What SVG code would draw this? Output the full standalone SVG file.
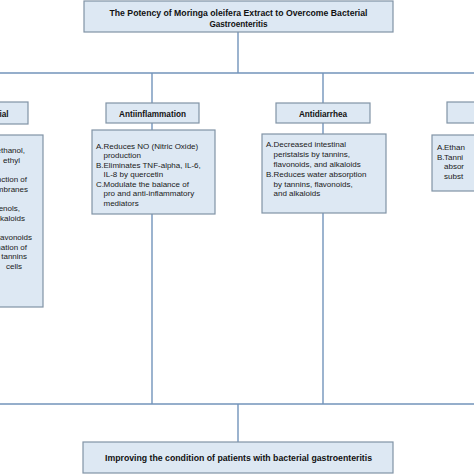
<svg xmlns="http://www.w3.org/2000/svg" width="474" height="474" viewBox="0 0 474 474">
<style>
.box{fill:#dde8f3;stroke:#8193a6;stroke-width:1.2}
.hd{font-family:"Liberation Sans",Arial,sans-serif;font-weight:bold;font-size:8.2px;fill:#111}
.tx{font-family:"Liberation Sans",Arial,sans-serif;font-size:8px;fill:#1a1a1a}
.ln{stroke:#7394bb;stroke-width:1.4;fill:none}
</style>
<rect width="474" height="474" fill="#fff"/>
<g id="connectors">
<path class="ln" d="M238 32V73M0 73H474M152 73V103M152 123V130M152 214V404M323 73V103M323 123V134M323 213V404M0 404H474M238 404V442"/>
</g>
<g id="title">
<rect class="box" x="84" y="1" width="309" height="31"/>
<text class="hd" x="238.5" y="16" text-anchor="middle" textLength="258" lengthAdjust="spacingAndGlyphs">The Potency of Moringa oleifera Extract to Overcome Bacterial</text>
<text class="hd" x="238.5" y="26.5" text-anchor="middle">Gastroenteritis</text>
</g>
<g id="antibacterial-header">
<rect class="box" x="-66" y="102" width="94" height="22"/>
<text class="hd" x="8.5" y="116.5" text-anchor="end">Antibacterial</text>
</g>
<g id="antibacterial-box">
<rect class="box" x="-81" y="135" width="124" height="172"/>
<g class="tx" text-anchor="end">
<text x="25" y="153">A. ethanol,</text>
<text x="20" y="163">ethyl</text>
<text x="27" y="182">function of</text>
<text x="28" y="192">cell membranes</text>
<text x="20" y="211">phenols,</text>
<text x="25" y="221">alkaloids</text>
<text x="32" y="240">and flavonoids</text>
<text x="27" y="250">formation of</text>
<text x="27" y="259">tannins</text>
<text x="22" y="269">cells</text>
</g>
</g>
<g id="antiinflammation-header">
<rect class="box" x="106" y="103" width="93" height="20"/>
<text class="hd" x="152.5" y="116.5" text-anchor="middle">Antiinflammation</text>
</g>
<g id="antiinflammation-box">
<rect class="box" x="92" y="130" width="123" height="84"/>
<g class="tx">
<text x="96" y="148.5">A.</text><text x="103.5" y="148.5">Reduces NO (Nitric Oxide)</text>
<text x="103.5" y="158">production</text>
<text x="96" y="167.5">B.</text><text x="103.5" y="167.5">Eliminates TNF-alpha, IL-6,</text>
<text x="103.5" y="177">IL-8 by quercetin</text>
<text x="96" y="186.5">C.</text><text x="103.5" y="186.5">Modulate the balance of</text>
<text x="103.5" y="196">pro and anti-inflammatory</text>
<text x="103.5" y="205.5">mediators</text>
</g>
</g>
<g id="antidiarrhea-header">
<rect class="box" x="276" y="103" width="94" height="20"/>
<text class="hd" x="323" y="116.5" text-anchor="middle">Antidiarrhea</text>
</g>
<g id="antidiarrhea-box">
<rect class="box" x="262" y="134" width="124" height="79"/>
<g class="tx">
<text x="266" y="147">A.</text><text x="273.5" y="147">Decreased intestinal</text>
<text x="273.5" y="157">peristalsis by tannins,</text>
<text x="273.5" y="167">flavonoids, and alkaloids</text>
<text x="266" y="177">B.</text><text x="273.5" y="177">Reduces water absorption</text>
<text x="273.5" y="186.5">by tannins, flavonoids,</text>
<text x="273.5" y="196">and alkaloids</text>
</g>
</g>
<g id="right-header">
<rect class="box" x="447" y="102" width="94" height="21"/>
</g>
<g id="right-box">
<rect class="box" x="432" y="135" width="124" height="56"/>
<g class="tx">
<text x="437" y="150">A.</text><text x="444" y="150">Ethan</text>
<text x="437" y="159.5">B.</text><text x="444" y="159.5">Tanni</text>
<text x="444" y="169">absor</text>
<text x="444" y="178.5">subst</text>
</g>
</g>
<g id="outcome">
<rect class="box" x="83" y="442" width="310" height="31"/>
<text class="hd" x="238.5" y="461" text-anchor="middle" textLength="267" lengthAdjust="spacingAndGlyphs">Improving the condition of patients with bacterial gastroenteritis</text>
</g>
</svg>
